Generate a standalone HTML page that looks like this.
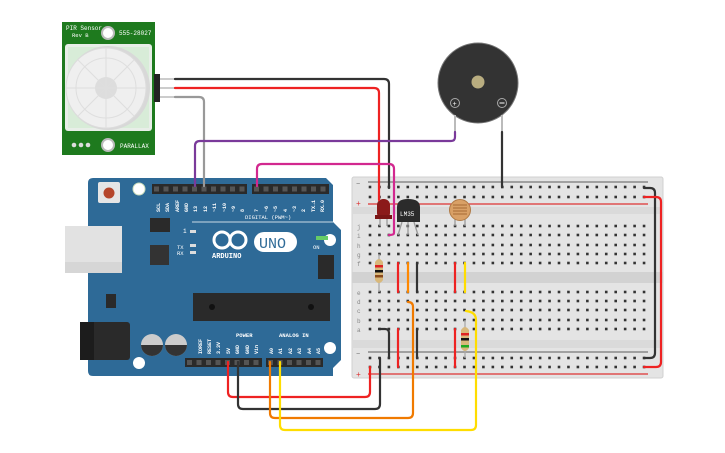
<!DOCTYPE html>
<html><head><meta charset="utf-8"><style>
html,body{margin:0;padding:0;background:#fff;width:725px;height:453px;overflow:hidden}
svg{display:block}
text{font-family:"Liberation Mono",monospace}
</style></head><body>
<svg id="s" width="725" height="453" viewBox="0 0 725 453" xmlns="http://www.w3.org/2000/svg">
<!-- PIR sensor -->
<rect x="62" y="22" width="93" height="133" fill="#1e7a1e"/>
<rect x="65" y="44" width="87" height="87" rx="3" fill="#e8eee8"/>
<rect x="68" y="47" width="81" height="81" fill="#d8ecd8"/>
<circle cx="108" cy="88" r="42" fill="#d8d8d8"/>
<circle cx="106" cy="88" r="40" fill="#efefef" stroke="#dcdcdc"/>
<circle cx="106" cy="88" r="30" fill="none" stroke="#dedede"/>
<circle cx="106" cy="88" r="11" fill="#dddddd"/>
<g stroke="#dedede"><line x1="106" y1="48" x2="106" y2="128"/><line x1="66" y1="88" x2="146" y2="88"/><line x1="78" y1="60" x2="134" y2="116"/><line x1="78" y1="116" x2="134" y2="60"/></g>
<circle cx="108" cy="33" r="6" fill="#fff" stroke="#bbb" stroke-width="2"/>
<circle cx="108" cy="145" r="6" fill="#fff" stroke="#bbb" stroke-width="2"/>
<text x="66" y="30" font-size="6" fill="#fff">PIR Sensor</text>
<text x="72" y="37" font-size="5.5" fill="#fff">Rev B</text>
<text x="119" y="35" font-size="6" fill="#fff">555-28027</text>
<text x="120" y="148" font-size="6" fill="#fff">PARALLAX</text>
<g fill="#ddd"><circle cx="74" cy="145" r="2.3"/><circle cx="81" cy="145" r="2.3"/><circle cx="88" cy="145" r="2.3"/></g>
<rect x="154" y="74" width="6" height="28" fill="#222"/>
<g stroke="#ccc" stroke-width="2"><line x1="160" y1="79" x2="175" y2="79"/><line x1="160" y1="88" x2="175" y2="88"/><line x1="160" y1="97" x2="175" y2="97"/></g>

<!-- Buzzer -->
<circle cx="478" cy="83" r="40" fill="#333" stroke="#777" stroke-width="1"/>
<circle cx="478" cy="82" r="6.5" fill="#b9ad80"/>
<circle cx="455" cy="103" r="4.5" fill="none" stroke="#aaa"/><text x="452.5" y="106" font-size="7" fill="#fff">+</text>
<circle cx="502" cy="103" r="4.5" fill="none" stroke="#aaa"/><line x1="499.5" y1="103" x2="504.5" y2="103" stroke="#fff"/>
<line x1="455" y1="115" x2="455" y2="132" stroke="#bbb" stroke-width="2"/>
<line x1="502" y1="115" x2="502" y2="132" stroke="#bbb" stroke-width="2"/>

<!-- Arduino -->
<path d="M93 178 H326 L333 185 V222 L341 230 V360 L333 368 V376 H93 Q88 376 88 371 V183 Q88 178 93 178Z" fill="#2e6a97"/>
<rect x="152" y="184" width="95" height="10" fill="#2a2a2a"/>
<rect x="252" y="184" width="77" height="10" fill="#2a2a2a"/>
<rect x="185" y="358" width="77" height="9" fill="#2a2a2a"/>
<rect x="266" y="358" width="57" height="9" fill="#2a2a2a"/>
<g id="hp" fill="#555"></g>
<rect x="98" y="182" width="22" height="21" rx="2" fill="#e5e5e5"/>
<circle cx="109" cy="193" r="5.5" fill="#b5452a"/>
<circle cx="139" cy="189" r="6" fill="#fff" stroke="#cdb" /><circle cx="330" cy="240" r="6" fill="#fff"/>
<circle cx="139" cy="363" r="6" fill="#fff"/><circle cx="330" cy="348" r="6" fill="#fff"/>
<rect x="65" y="226" width="57" height="47" fill="#d6d6d6"/><rect x="65" y="226" width="57" height="36" fill="#e2e2e2"/>
<rect x="80" y="322" width="50" height="38" rx="3" fill="#2a2a2a"/><rect x="80" y="322" width="14" height="38" fill="#1c1c1c"/>
<rect x="150" y="218" width="20" height="14" fill="#2a2a2a"/>
<rect x="150" y="245" width="19" height="20" fill="#333"/>
<rect x="106" y="294" width="10" height="14" fill="#2a2a2a"/>
<circle cx="152" cy="345" r="11" fill="#ccc"/><path d="M141 345 A11 11 0 0 0 163 345Z" fill="#333"/>
<circle cx="176" cy="345" r="11" fill="#ccc"/><path d="M165 345 A11 11 0 0 0 187 345Z" fill="#333"/>
<rect x="193" y="293" width="137" height="28" fill="#2a2a2a"/>
<circle cx="212" cy="307" r="3" fill="#111"/><circle cx="311" cy="307" r="3" fill="#111"/>
<rect x="318" y="255" width="16" height="24" fill="#2a2a2a"/>
<rect x="190" y="230" width="6" height="3" fill="#ddd"/><rect x="190" y="244" width="6" height="3" fill="#ddd"/><rect x="190" y="251" width="6" height="3" fill="#ddd"/>
<text x="183" y="233" font-size="6" fill="#fff">1</text><text x="177" y="249" font-size="5.5" fill="#fff">TX</text><text x="177" y="255" font-size="5.5" fill="#fff">RX</text>
<circle cx="222" cy="240" r="8" fill="none" stroke="#fff" stroke-width="3"/><circle cx="238" cy="240" r="8" fill="none" stroke="#fff" stroke-width="3"/>
<text x="212" y="258" font-size="7" font-weight="bold" fill="#fff">ARDUINO</text>
<rect x="254" y="232" width="43" height="20" rx="10" fill="#fff"/><text x="259" y="248" font-size="15" fill="#2e6a97" font-family="Liberation Sans">UNO</text>
<rect x="316" y="236" width="12" height="4" fill="#6c6"/><text x="313" y="249" font-size="5.5" fill="#fff">ON</text>
<text x="245" y="219" font-size="5.5" fill="#fff">DIGITAL (PWM~)</text>
<line x1="192" y1="222" x2="333" y2="222" stroke="#fff" stroke-width="0.7"/>
<text x="236" y="337" font-size="5.5" fill="#fff" font-weight="bold">POWER</text>
<text x="279" y="337" font-size="5.5" fill="#fff" font-weight="bold">ANALOG IN</text>
<g font-size="5" fill="#fff" font-weight="bold">
<text transform="translate(160,212) rotate(-90)">SCL</text><text transform="translate(169,212) rotate(-90)">SDA</text><text transform="translate(179,212) rotate(-90)">AREF</text><text transform="translate(188,212) rotate(-90)">GND</text><text transform="translate(197,212) rotate(-90)">13</text><text transform="translate(207,212) rotate(-90)">12</text><text transform="translate(216,212) rotate(-90)">~11</text><text transform="translate(226,212) rotate(-90)">~10</text><text transform="translate(235,212) rotate(-90)">~9</text><text transform="translate(244,212) rotate(-90)">8</text>
<text transform="translate(258,212) rotate(-90)">7</text><text transform="translate(268,212) rotate(-90)">~6</text><text transform="translate(277,212) rotate(-90)">~5</text><text transform="translate(287,212) rotate(-90)">4</text><text transform="translate(296,212) rotate(-90)">~3</text><text transform="translate(305,212) rotate(-90)">2</text><text transform="translate(315,212) rotate(-90)">TX→1</text><text transform="translate(324,212) rotate(-90)">RX←0</text>
<text transform="translate(202,354) rotate(-90)">IOREF</text><text transform="translate(211,354) rotate(-90)">RESET</text><text transform="translate(220,354) rotate(-90)">3.3V</text><text transform="translate(230,354) rotate(-90)">5V</text><text transform="translate(239,354) rotate(-90)">GND</text><text transform="translate(249,354) rotate(-90)">GND</text><text transform="translate(258,354) rotate(-90)">Vin</text>
<text transform="translate(273,354) rotate(-90)">A0</text><text transform="translate(282,354) rotate(-90)">A1</text><text transform="translate(292,354) rotate(-90)">A2</text><text transform="translate(301,354) rotate(-90)">A3</text><text transform="translate(311,354) rotate(-90)">A4</text><text transform="translate(320,354) rotate(-90)">A5</text>
</g>

<!-- Breadboard -->
<rect x="352" y="177" width="311" height="201" rx="2" fill="#e4e4e4" stroke="#d0d0d0"/>
<rect x="352" y="207" width="311" height="7" fill="#dadada"/>
<rect x="352" y="340" width="311" height="8" fill="#dadada"/>
<rect x="352" y="272" width="311" height="11" fill="#d2d2d2"/>
<line x1="368" y1="182" x2="648" y2="182" stroke="#777" stroke-width="1.2"/>
<line x1="368" y1="204" x2="648" y2="204" stroke="#d33" stroke-width="1.2"/>
<line x1="368" y1="352" x2="648" y2="352" stroke="#777" stroke-width="1.2"/>
<line x1="368" y1="374" x2="648" y2="374" stroke="#d33" stroke-width="1.2"/>
<text x="356" y="186" font-size="7" fill="#666">−</text><text x="356" y="206" font-size="8" fill="#d33">+</text>
<text x="356" y="356" font-size="7" fill="#666">−</text><text x="356" y="377" font-size="8" fill="#d33">+</text>
<g font-size="6" fill="#888"><text x="357" y="229">j</text><text x="357" y="238">i</text><text x="357" y="248">h</text><text x="357" y="257">g</text><text x="357" y="266">f</text><text x="357" y="295">e</text><text x="357" y="304">d</text><text x="357" y="313">c</text><text x="357" y="323">b</text><text x="357" y="332">a</text></g>
<g id="dots" fill="#333"></g>

<!-- breadboard components -->
<rect x="377" y="199" width="13" height="20" rx="6" fill="#8b1a1a"/><rect x="375" y="215" width="17" height="4" fill="#7a1515"/>
<g stroke="#999" stroke-width="1.3"><line x1="380" y1="219" x2="380" y2="226"/><line x1="387" y1="219" x2="387" y2="226"/><line x1="402" y1="222" x2="398" y2="235"/><line x1="408" y1="222" x2="408" y2="235"/><line x1="414" y1="222" x2="418" y2="235"/><line x1="455" y1="218" x2="455" y2="226"/><line x1="465" y1="218" x2="465" y2="226"/></g>
<path d="M397 222 V207 Q397 199 408 199 Q420 199 420 207 V222Z" fill="#2b2b2b"/>
<text x="400" y="216" font-size="6" fill="#fff">LM35</text>
<circle cx="460" cy="210" r="10.5" fill="#d9a066" stroke="#b07a45"/>
<path d="M453 205 H467 M453 208 H467 M453 211 H467 M453 214 H467" stroke="#a86a34" fill="none" stroke-width="1"/>
<!-- resistors -->
<line x1="379" y1="254" x2="379" y2="292" stroke="#aaa" stroke-width="1.3"/>
<path d="M375 262 Q379 256 383 262 V280 Q379 286 375 280Z" fill="#d9b87a"/>
<rect x="375" y="265" width="8" height="2.5" fill="#d22"/><rect x="375" y="270" width="8" height="2.5" fill="#111"/><rect x="375" y="275" width="8" height="2.5" fill="#8a4b1e"/>
<line x1="465" y1="320" x2="465" y2="358" stroke="#aaa" stroke-width="1.3"/>
<path d="M461 330 Q465 324 469 330 V348 Q465 354 461 348Z" fill="#d9b87a"/>
<rect x="461" y="333" width="8" height="2.5" fill="#d22"/><rect x="461" y="338" width="8" height="2.5" fill="#111"/><rect x="461" y="345" width="8" height="2.5" fill="#2a2"/>

<!-- wires -->
<g fill="none" stroke-width="2.2" stroke-linecap="round" stroke-linejoin="round">
<line x1="398" y1="263" x2="398" y2="292" stroke="#e22"/>
<line x1="408" y1="263" x2="408" y2="292" stroke="#f80"/>
<line x1="417" y1="263" x2="417" y2="292" stroke="#333"/>
<line x1="455" y1="263" x2="455" y2="292" stroke="#e22"/>
<line x1="465" y1="263" x2="465" y2="292" stroke="#fd0"/>
<path d="M379 329 H385 Q389 329 389 333 V358" stroke="#333"/>
<line x1="398" y1="329" x2="398" y2="367" stroke="#e22"/>
<line x1="417" y1="329" x2="417" y2="358" stroke="#333"/>
<line x1="455" y1="329" x2="455" y2="367" stroke="#e22"/>
<path d="M644 188 H650 Q655 188 655 193 V353 Q655 358 650 358 H644" stroke="#333"/>
<path d="M644 197 H656 Q661 197 661 202 V362 Q661 367 656 367 H644" stroke="#e22"/>
<!-- PIR wires -->
<path d="M175 79 H384 Q389 79 389 84 V188" stroke="#333"/>
<path d="M175 88 H374 Q379 88 379 93 V200" stroke="#e22"/>
<path d="M175 97 H199 Q204 97 204 102 V186" stroke="#999"/>
<path d="M455 132 V137 Q455 141 451 141 H200 Q195 141 195 146 V186" stroke="#7a3a9a"/>
<path d="M502 132 V187" stroke="#333"/>
<path d="M257 186 V169 Q257 164 262 164 H389 Q394 164 394 169 V233 Q394 235 389 235" stroke="#d2288f"/>
<!-- bottom wires -->
<path d="M228 362 V392 Q228 397 233 397 H365 Q370 397 370 392 V367" stroke="#e22"/>
<path d="M238 362 V404 Q238 409 243 409 H375 Q380 409 380 404 V358" stroke="#333"/>
<path d="M270 362 V413 Q270 418 275 418 H408 Q413 418 413 413 V307 Q413 302 408 302" stroke="#f07a00"/>
<path d="M280 362 V425 Q280 430 285 430 H471 Q476 430 476 425 V320 Q476 312 466 311" stroke="#fd0"/>
</g>
</svg>
<script>
var ns="http://www.w3.org/2000/svg",d=document.getElementById("dots"),h=document.getElementById("hp");
var ys=[187,197,226,235,245,254,263,292,301,310,320,329,358,367];
for(var c=0;c<30;c++){var x=370+9.45*c;for(var i=0;i<ys.length;i++){var e=document.createElementNS(ns,"rect");e.setAttribute("x",x-1.3);e.setAttribute("y",ys[i]-1.3);e.setAttribute("width",2.6);e.setAttribute("height",2.6);d.appendChild(e);}}
function pins(x0,y,n){for(var k=0;k<n;k++){var e=document.createElementNS(ns,"rect");e.setAttribute("x",x0+k*9.5+2);e.setAttribute("y",y);e.setAttribute("width",5);e.setAttribute("height",5);h.appendChild(e);}}
pins(152,186.5,10);pins(252,186.5,8);pins(185,360,8);pins(266,360,6);
</script>
</body></html>
